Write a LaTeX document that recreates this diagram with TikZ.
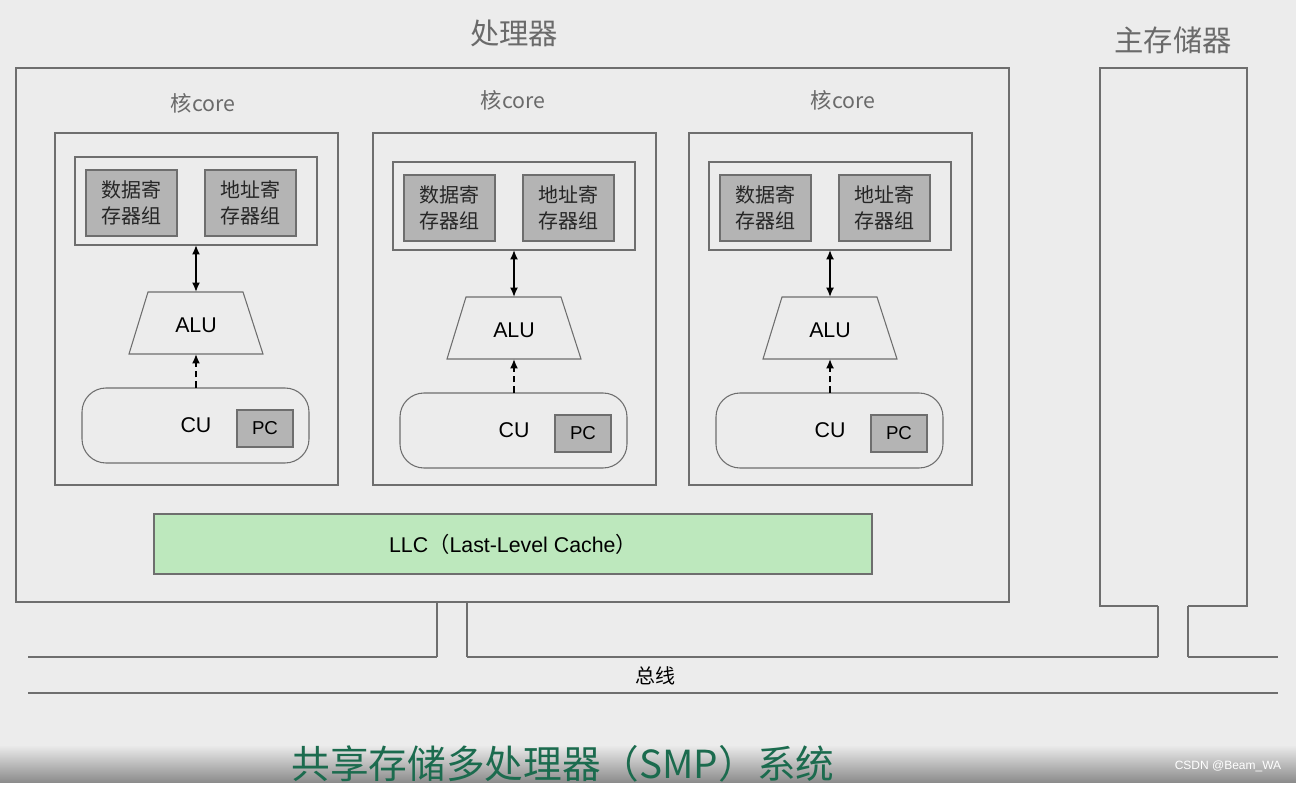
\documentclass[tikz,border=0pt]{standalone}
\usetikzlibrary{arrows.meta}
\usepackage{fontspec}
\setmainfont{Noto Sans CJK SC}
\newfontfamily\latinf{Liberation Sans}
\newfontfamily\cjkf{Noto Sans CJK SC}
\definecolor{bg}{HTML}{ECECEC}
\definecolor{ln}{HTML}{6E6E6E}
\definecolor{regf}{HTML}{B4B4B4}
\definecolor{llcf}{HTML}{BDE8BD}
\definecolor{ttl}{HTML}{6A6A6A}
\definecolor{grn}{HTML}{1B6B4E}
\begin{document}
\begin{tikzpicture}[x=0.75pt,y=-0.75pt,
  box/.style={draw=ln,line width=0.8pt},
  reg/.style={draw=ln,fill=regf,line width=0.8pt,minimum width=68.25pt,minimum height=49.5pt,inner sep=0pt,align=center,font=\fontsize{15}{19}\selectfont,text=black!85},
  lbl/.style={text=ttl,font=\fontsize{16}{18}\selectfont},
  txt/.style={font=\latinf\fontsize{16}{18}\selectfont}]
\fill[bg] (0,0) rectangle (1296,782);
\shade[top color=bg,bottom color=black!45] (0,745) rectangle (1296,782);
\node[text=ttl,font=\fontsize{22}{24}\selectfont] (tp) at (514,33) {处理器};
\node[text=ttl,font=\fontsize{22}{24}\selectfont] (tm) at (1173,40) {主存储器};
\draw[box] (16,68) rectangle (1009,602);
\draw[box] (1158,606) -- (1100,606) -- (1100,68) -- (1247,68) -- (1247,606) -- (1188,606);
\foreach \i/\dx/\dy/\lx/\ly in {1/0/0/203/103,2/318/5/513/100,3/634/5/843/100}{
  \node[lbl] (lab\i) at (\lx,\ly) {核core};
  \draw[box] (55+\dx,133) rectangle (55+\dx+283,485);
  \begin{scope}[shift={(\dx,\dy)}]
  \draw[box] (75,157) rectangle (317,245);
  \node[reg] (d\i) at (131.5,203) {数据寄\\存器组};
  \node[reg] (a\i) at (250.5,203) {地址寄\\存器组};
  \coordinate (rb\i) at (196,245);
  \draw[box] (148,292) -- (243,292) -- (263,354) -- (129,354) -- cycle;
  \coordinate (at\i) at (196,292);
  \coordinate (ab\i) at (196,354);
  \node[txt] (alu\i) at (196,325) {ALU};
  \draw[box,rounded corners=18pt] (82,388) rectangle (309,463);
  \coordinate (ct\i) at (196,388);
  \node[txt] (cu\i) at (196,425) {CU};
  \node[draw=ln,fill=regf,line width=0.8pt,minimum width=42pt,minimum height=27.75pt,inner sep=0pt,font=\latinf\fontsize{14}{16}\selectfont] (pc\i) at (265,428.5) {PC};
  \draw[line width=1.3pt,{Latex[length=7pt,width=6pt]}-{Latex[length=7pt,width=6pt]}] (rb\i) -- (at\i);
  \draw[line width=1.3pt,dash pattern=on 5pt off 3pt,-{Latex[length=7pt,width=6pt]}] (ct\i) -- (ab\i);
  \end{scope}
}
\node[draw=ln,fill=llcf,line width=0.8pt,minimum width=538.5pt,minimum height=45pt,inner sep=0pt,font=\latinf\fontsize{16}{18}\selectfont] (llc) at (513,544) {LLC{\cjkf（}Last-Level Cache{\cjkf）}};
\draw[box] (437,602) -- (437,657) (467,602) -- (467,657);
\draw[box] (1158,606) -- (1158,657) (1188,606) -- (1188,657);
\draw[box] (28,657) -- (437,657) (467,657) -- (1158,657) (1188,657) -- (1278,657);
\draw[box] (28,693) -- (1278,693);
\node[font=\fontsize{15}{17}\selectfont] (bus) at (655,676) {总线};
\node[text=grn,font=\fontsize{29}{32}\selectfont] (title) at (563,764) {共享存储多处理器（SMP）系统};
\node[text=white,font=\latinf\fontsize{9}{10}\selectfont] (wm) at (1228,766) {CSDN @Beam\_WA};
\end{tikzpicture}
\end{document}
